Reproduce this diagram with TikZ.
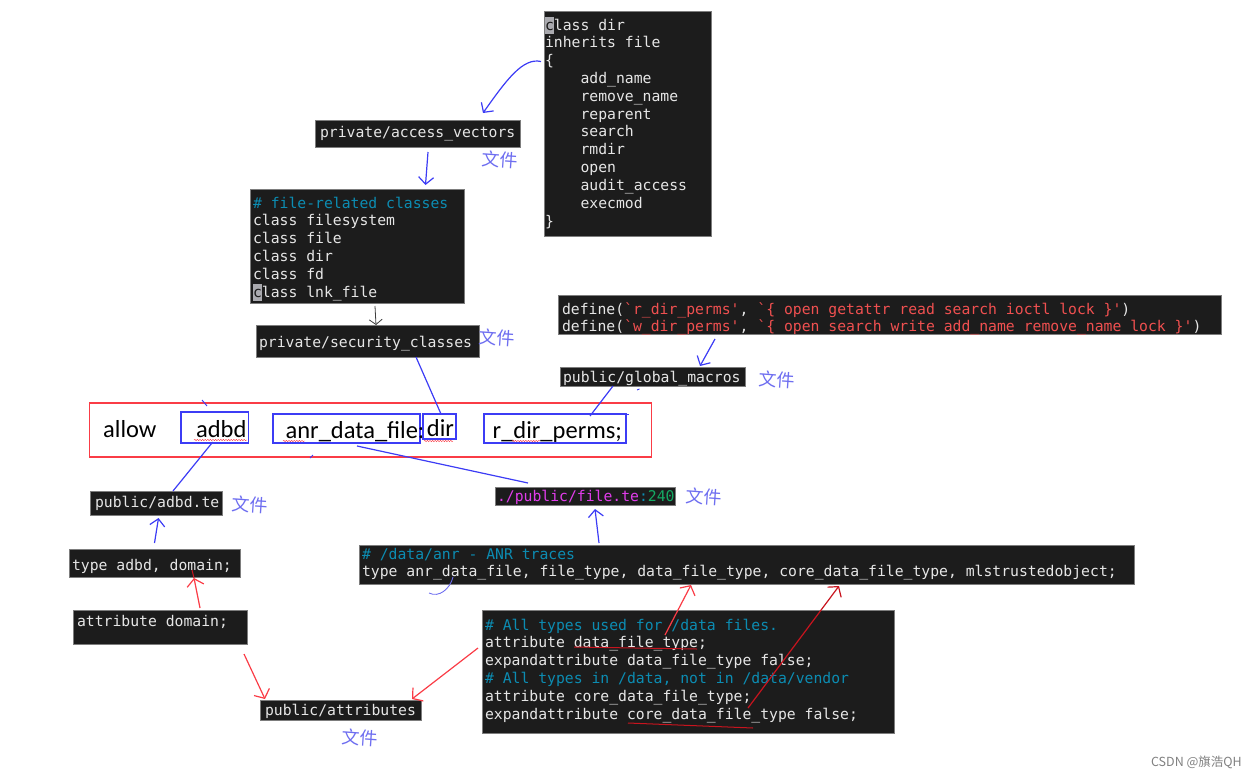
\documentclass[tikz,border=0pt]{standalone}
\usepackage{fontspec}
\usepackage{xcolor}
\usetikzlibrary{arrows.meta,decorations.pathmorphing}
\setmainfont{Carlito}
\newfontfamily\termfont{DejaVu Sans Mono}
\newfontfamily\cjkfont{Noto Sans CJK SC}
\definecolor{termbg}{RGB}{28, 28, 28}
\definecolor{termedge}{RGB}{125, 125, 125}
\definecolor{termtext}{RGB}{230, 230, 230}
\definecolor{termcomment}{RGB}{12, 140, 178}
\definecolor{termred}{RGB}{240, 80, 80}
\definecolor{termpink}{RGB}{225, 60, 235}
\definecolor{termgreen}{RGB}{20, 170, 100}
\definecolor{cursorgray}{RGB}{170, 170, 175}
\definecolor{handblue}{RGB}{60, 60, 245}
\definecolor{notelight}{RGB}{110, 110, 240}
\definecolor{handred}{RGB}{250, 60, 70}
\definecolor{darkred}{RGB}{200, 20, 30}
\newcommand{\cm}[1]{\textcolor{termcomment}{#1}}
\newcommand{\rd}[1]{\textcolor{termred}{#1}}
\newcommand{\ind}{\hspace*{35.5pt}}
\newcommand{\curs}{\makebox[0pt][l]{\textcolor{cursorgray}{\rule[-4pt]{8.9pt}{17pt}}}\textcolor{termbg}{c}}
\newcommand{\termsetup}{\fontsize{14.75}{17.82}\selectfont\termfont}
\newcommand{\termspace}{\spaceskip 8.88pt\xspaceskip 8.88pt\relax}
\tikzstyle{term} = [rectangle, anchor=north west, fill=termbg, draw=termedge, line width=0.7pt, outer sep=0pt, inner ysep=0pt, inner xsep=3pt, text=termtext, align=left, font=\termsetup, execute at begin node=\termspace]
\tikzstyle{pick} = [rectangle, anchor=north west, draw=handblue, line width=1.1pt, outer sep=0pt, inner ysep=0pt, inner xsep=2pt, align=right, text=black, text height=19pt, text depth=0pt, font=\fontsize{24.5}{26}\selectfont]
\tikzstyle{note} = [text=notelight, font=\fontsize{18}{20}\selectfont\cjkfont, inner sep=0pt]
\tikzstyle{bedge} = [draw=handblue, line width=1.2pt, -{Straight Barb[length=7pt,width=15pt]}]
\tikzstyle{redge} = [draw=handred, line width=1.2pt, -{Straight Barb[length=7pt,width=17pt]}]
\tikzstyle{bline} = [draw=handblue, line width=1.2pt]
\tikzstyle{squig} = [draw=handred, line width=0.4pt, decorate, decoration={snake, amplitude=0.7pt, segment length=2.6pt}]
\begin{document}
\begin{tikzpicture}[x=1pt, y=-1pt]
\useasboundingbox (0,0) rectangle (1255,779);

% terminal crops =============================
\node[term, text width=165pt, text height=19pt, text depth=206pt, inner xsep=1pt] (dirclass) at (544,11) {\curs lass dir\\inherits file\\\{\\\ind add\_name\\\ind remove\_name\\\ind reparent\\\ind search\\\ind rmdir\\\ind open\\\ind audit\_access\\\ind execmod\\\}};
\node[term, text width=195pt, text height=17pt, text depth=10pt, inner xsep=5pt] (accessvec) at (315,120) {private/access\_vectors};
\node[term, text width=208pt, text height=19pt, text depth=95pt] (fileclass) at (250,189) {\cm{\# file-related classes}\\class filesystem\\class file\\class dir\\class fd\\\curs lass lnk\_file};
\node[term, text width=217pt, text height=22pt, text depth=10pt] (secclass) at (256,325) {private/security\_classes};
\node[term, text width=655pt, text height=19pt, text depth=20pt, inner xsep=4pt] (defines) at (558,295) {define(\rd{`r\_dir\_perms'}, \rd{`\{ open getattr read search ioctl lock \}'})\\define(\rd{`w\_dir\_perms'}, \rd{`\{ open search write add\_name remove\_name lock \}'})};
\node[term, text width=179pt, text height=15pt, text depth=4pt] (globalmac) at (560,367) {public/global\_macros};
\node[term, text width=122pt, text height=16pt, text depth=8pt, inner xsep=5pt] (adbdte) at (90,491) {public/adbd.te};
\node[term, text width=176pt, text height=14pt, text depth=4pt, inner xsep=2pt] (filete) at (495,487) {\textcolor{termpink}{./public/file.te}\textcolor{termcomment}{:}\textcolor{termgreen}{240}};
\node[term, text width=165pt, text height=21pt, text depth=7pt] (typeadbd) at (69,549) {type adbd, domain;};
\node[term, text width=166pt, text height=16pt, text depth=18pt, inner xsep=4pt] (attrdom) at (73,610) {attribute domain;};
\node[term, text width=151pt, text height=15pt, text depth=5pt, inner xsep=5pt] (pubattr) at (260,700) {public/attributes};
\node[term, text width=769pt, text height=14pt, text depth=25pt] (anrtype) at (359,545) {\cm{\# /data/anr - ANR traces}\\type anr\_data\_file, file\_type, data\_file\_type, core\_data\_file\_type, mlstrustedobject;};
\node[term, text width=406pt, text height=20pt, text depth=103pt] (attrs) at (482,610) {\cm{\# All types used for /data files.}\\attribute data\_file\_type;\\expandattribute data\_file\_type false;\\\cm{\# All types in /data, not in /data/vendor}\\attribute core\_data\_file\_type;\\expandattribute core\_data\_file\_type false;};

% allow rule =============================
\node[rectangle, anchor=north west, draw=handred, line width=1.2pt, outer sep=0pt, minimum width=562pt, minimum height=54pt] (rule) at (89.5,403) {};
\node[anchor=base west, inner sep=0pt, text=black, font=\fontsize{24.5}{26}\selectfont] (allow) at (103,437) {allow};
\node[pick, text width=63.5pt, minimum height=31pt] (adbd) at (181,412) {adbd};
\node[pick, text width=143pt, minimum height=29pt] (anr) at (273,414) {anr\_data\_file\rlap{:}};
\node[pick, text width=29pt, minimum height=25pt] (dirpick) at (423,414) {dir};
\node[pick, text width=134pt, minimum height=29pt, inner xsep=4pt] (rperms) at (484,414) {r\_dir\_perms;};

% hand notes
\node[note, rotate=-4] (noteaccess) at (500,160) {文件};
\node[note, rotate=-4] (notesec) at (497,338) {文件};
\node[note, rotate=-4] (noteglobal) at (777,380) {文件};
\node[note, rotate=-4] (notefile) at (704,497) {文件};
\node[note, rotate=-4] (noteadbd) at (250,505) {文件};
\node[note, rotate=-4] (noteattr) at (360,738) {文件};
\node[inner sep=0pt, text=gray, font=\fontsize{12.5}{14}\selectfont\cjkfont, anchor=east] (mark) at (1242,762) {CSDN @旗浩QH};

% edges
\path[bedge] ([shift={(-3,-62)}]dirclass.west) .. controls +(-18,-4) and +(24,-34) .. ([shift={(-37,-7)}]accessvec.north east);
\path[bedge] ([shift={(10.5,5)}]accessvec.south) -- ([shift={(68.5,-4)}]fileclass.north);
\draw[draw=termbg!85, line width=0.8pt, -{Straight Barb[length=5pt,width=13pt]}] ([shift={(18,3)}]fileclass.south) -- ([xshift=8.5pt]secclass.north);
\path[bline] ([xshift=48.5pt]secclass.south) -- ([xshift=1.5pt]dirpick.north);
\path[bedge] ([shift={(-174.5,5)}]defines.south) -- ([shift={(47.5,-1)}]globalmac.north);
\path[bline] ([xshift=-39.5pt]globalmac.south) -- ([shift={(35,2)}]rperms.north);
\path[bline] ([shift={(-2,-1)}]adbd.south) -- ([xshift=17pt]adbdte.north);
\path[bline] ([shift={(10.5,3)}]anr.south) -- ([shift={(-57,-4)}]filete.north);
\path[bedge] ([shift={(0,-6)}]typeadbd.north) -- ([shift={(2.5,3)}]adbdte.south);
\path[bedge] ([shift={(-147.5,-2)}]anrtype.north) -- ([shift={(10,4)}]filete.south);

% red edges
\path[redge] ([shift={(40,-2)}]attrdom.north) -- ([shift={(39.5,1)}]typeadbd.south);
\draw[darkred, line width=1pt] ([shift={(37.5,-7)}]typeadbd.south) -- ([shift={(39.5,1)}]typeadbd.south);
\path[redge] ([shift={(84,10)}]attrdom.south) -- ([shift={(-75.5,-1)}]pubattr.north);
\path[redge] ([shift={(-4,-23.5)}]attrs.west) -- ([shift={(71.5,-1)}]pubattr.north);
\path[redge] ([shift={(-23,25)}]attrs.north) -- ([shift={(-55.5,1)}]anrtype.south);
\path[redge, draw=darkred] ([shift={(60,-25)}]attrs.south) -- ([shift={(92.5,2)}]anrtype.south);
\draw[darkred, line width=1pt] ([shift={(-114,37)}]attrs.north) -- ([shift={(9,39)}]attrs.north);
\draw[darkred, line width=1pt] ([shift={(-60,-10)}]attrs.south) -- ([shift={(65,-5)}]attrs.south);
\draw[notelight, line width=0.9pt] ([shift={(-293.5,-7)}]anrtype.south) .. controls +(-3,12) and +(10,5) .. ([shift={(-317.5,9)}]anrtype.south);

% spell check marks
\path[squig] ([shift={(-20.75,-3)}]adbd.south) -- ([shift={(32.25,-3)}]adbd.south);
\path[squig] ([shift={(-63.5,-2)}]anr.south) -- ([shift={(-41.5,-2)}]anr.south);
\path[squig] ([shift={(-15.5,2)}]dirpick.south) -- ([shift={(13.5,2)}]dirpick.south);
\path[squig] ([shift={(-43,-2)}]rperms.south) -- ([shift={(-15,-2)}]rperms.south);

% pen ticks
\draw[handblue, line width=0.9pt] ([shift={(-168.5,-3)}]rule.north) -- ([shift={(-163.5,3)}]rule.north);
\draw[handblue, line width=0.9pt] ([shift={(-60.5,1)}]rule.south) -- ([shift={(-57.5,-2)}]rule.south);
\draw[handblue, line width=0.9pt] ([shift={(266.5,-13)}]rule.north) -- ([shift={(269,-14)}]rule.north);
\draw[handblue, line width=0.9pt] (rperms.north east) -- ([xshift=3pt]rperms.north east);

\end{tikzpicture}
\end{document}
